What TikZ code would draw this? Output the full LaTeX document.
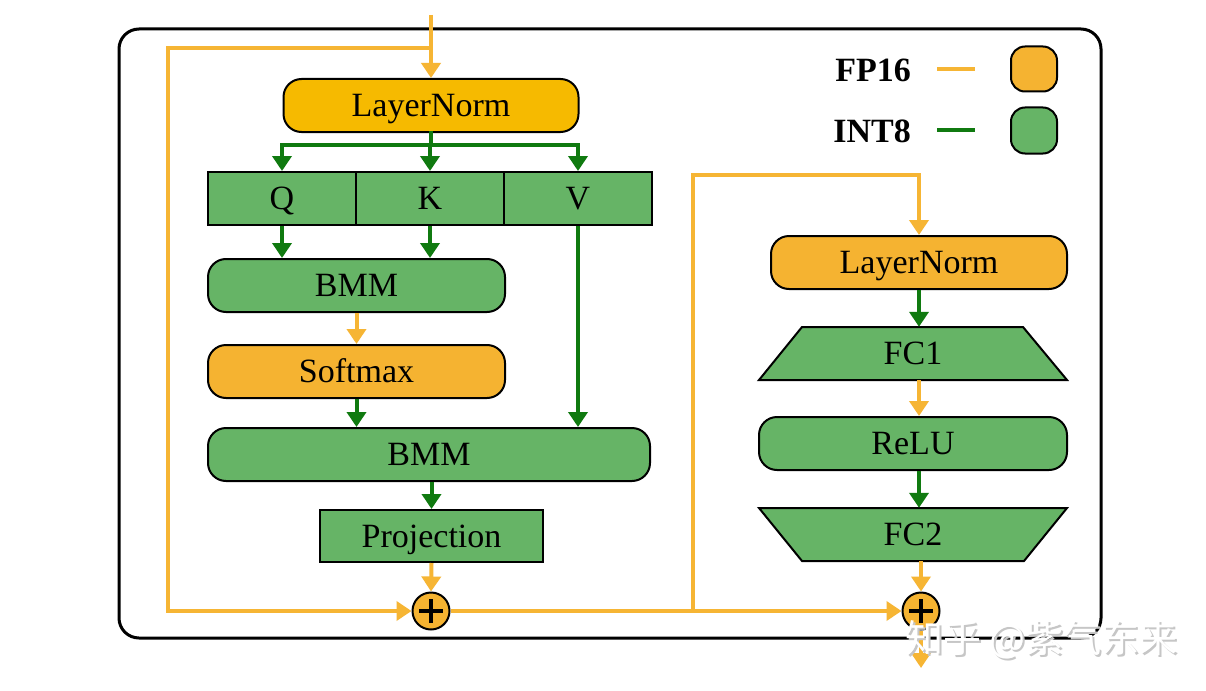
\documentclass[tikz,border=0pt]{standalone}
\usepackage{fontspec}
\setmainfont{Liberation Serif}
\newfontfamily\cjkfont{Noto Sans CJK SC}
\usetikzlibrary{arrows.meta,calc}
\definecolor{ylw}{HTML}{F6B534}
\definecolor{org}{HTML}{F5B331}
\definecolor{lnorg}{HTML}{F6BA00}
\definecolor{grn}{HTML}{66B466}
\definecolor{dgrn}{HTML}{107A10}
\begin{document}
\begin{tikzpicture}[x=1pt,y=-1pt,
  lbl/.style={font=\fontsize{34}{40}\selectfont, text height=22pt, text depth=0pt, inner sep=0pt},
  lblb/.style={font=\bfseries\fontsize{34}{40}\selectfont, text height=22pt, text depth=0pt, inner sep=0pt},
  box/.style={lbl, draw=black, line width=2pt},
  gbox/.style={box, fill=grn, minimum height=53pt},
  obox/.style={box, fill=org, minimum height=53pt},
  rbox/.style={rounded corners=18pt},
  yarr/.style={draw=ylw, line width=4pt, -{Triangle[width=19pt,length=15pt]}},
  garr/.style={draw=dgrn, line width=4pt, -{Triangle[width=19pt,length=15pt]}},
  yline/.style={draw=ylw, line width=4pt},
  gline/.style={draw=dgrn, line width=4pt, line cap=rect},
  plus/.style={circle, draw=black, line width=2pt, fill=org, minimum size=37pt, inner sep=0pt},
  pbar/.style={line width=3.5pt},
  trap/.style={fill=grn, draw=black, line width=2pt, line join=miter}]
\fill[white] (0,0) rectangle (1206,690);
\useasboundingbox (0,0) rectangle (1206,690);

% frame
\node[draw=black, line width=3pt, rounded corners=20pt, minimum width=982pt, minimum height=609pt, inner sep=0pt] (frame) at (610,333.5) {};

% legend
\node[lblb, anchor=east] (fp) at (911,70.5) {FP16};
\node[lblb, anchor=east] (int) at (911,131.5) {INT8};
\coordinate (fpa) at (937,69); \coordinate (fpb) at (975,69);
\coordinate (ina) at (937,130); \coordinate (inb) at (975,130);
\draw[yline] (fpa) -- (fpb);
\draw[draw=dgrn, line width=4pt] (ina) -- (inb);
\node[box, fill=org, rounded corners=14pt, minimum width=46pt, minimum height=45pt] (fpsq) at (1034,69) {};
\node[box, fill=grn, rounded corners=14pt, minimum width=46pt, minimum height=46pt] (insq) at (1034,130.5) {};

% attention column
\node[obox, rbox, fill=lnorg, minimum width=295pt] (ln1) at (431,105.5) {LayerNorm};
\node[gbox, minimum width=148pt] (q) at (282,198.5) {Q};
\node[gbox, minimum width=148pt] (k) at (430,198.5) {K};
\node[gbox, minimum width=148pt] (v) at (578,198.5) {V};
\node[gbox, rbox, minimum width=297pt] (bmm1) at (356.5,285.5) {BMM};
\node[obox, rbox, minimum width=297pt] (sm) at (356.5,371.5) {Softmax};
\node[gbox, rbox, minimum width=442pt] (bmm2) at (429,454.5) {BMM};
\node[gbox, minimum width=223pt, minimum height=52pt] (proj) at (431.5,536) {Projection};
\node[plus] (p1) at (431,611) {};
\draw[pbar] ([xshift=-12pt]p1.center) -- ([xshift=12pt]p1.center);
\draw[pbar] ([yshift=-12pt]p1.center) -- ([yshift=12pt]p1.center);

% MLP column
\node[obox, rbox, minimum width=296pt] (ln2) at (919,262.5) {LayerNorm};
\draw[trap] (802,327) -- (1023,327) -- (1067,380) -- (759,380) -- cycle;
\node[lbl, minimum width=308pt, minimum height=53pt] (fc1) at (913,353.5) {FC1};
\node[gbox, rbox, minimum width=308pt] (relu) at (913,443.5) {ReLU};
\draw[trap] (759,508) -- (1067,508) -- (1024,561) -- (802,561) -- cycle;
\node[lbl, minimum width=308pt, minimum height=53pt] (fc2) at (913,534.5) {FC2};
\node[plus] (p2) at (921,611) {};
\draw[pbar] ([xshift=-12pt]p2.center) -- ([xshift=12pt]p2.center);
\draw[pbar] ([yshift=-12pt]p2.center) -- ([yshift=12pt]p2.center);

% input and residual
\coordinate (in) at (431,15);
\coordinate (sp) at (431,48);
\coordinate (lc) at (168,48);
\draw[yarr] (in) -- (ln1.north);
\draw[yarr] (sp) -- (lc) |- (p1.west);

% QKV branches
\coordinate (br) at (431,145);
\draw[gline] (ln1.south) -- (br);
\draw[gline] (br -| q) -- (br -| v);
\draw[garr] (br -| q) -- (q.north);
\draw[garr] (br -| k) -- (k.north);
\draw[garr] (br -| v) -- (v.north);
\draw[garr] (q.south) -- (q.south |- bmm1.north);
\draw[garr] (k.south) -- (k.south |- bmm1.north);
\draw[garr] (v.south) -- (v.south |- bmm2.north);
\draw[yarr] (bmm1.south) -- (sm.north);
\draw[garr] (sm.south) -- (sm.south |- bmm2.north);
\draw[garr] (bmm2.south -| proj) -- (proj.north);
\draw[yarr] (proj.south) -- (p1.north);

% second block
\coordinate (j) at (693,611);
\coordinate (jt) at (693,175);
\draw[yarr] (p1.east) -- (p2.west);
\draw[yarr] (j) -- (jt) -| (ln2.north);
\draw[garr] (ln2.south) -- (ln2.south |- fc1.north);
\draw[yarr] (fc1.south -| ln2) -- (relu.north -| ln2);
\draw[garr] (relu.south -| ln2) -- (fc2.north -| ln2);
\draw[yarr] (fc2.south -| p2) -- (p2.north);
\coordinate (out) at (921,668);
\draw[yarr] (p2.south) -- (out);

% watermark
\node[font=\cjkfont\fontsize{38}{40}\selectfont, text=gray!45, anchor=west, inner sep=0pt] (wms) at (907,642) {知乎 @紫气东来};
\node[font=\cjkfont\fontsize{38}{40}\selectfont, text=white, anchor=west, inner sep=0pt] (wm) at (905,640) {知乎 @紫气东来};
\end{tikzpicture}
\end{document}
